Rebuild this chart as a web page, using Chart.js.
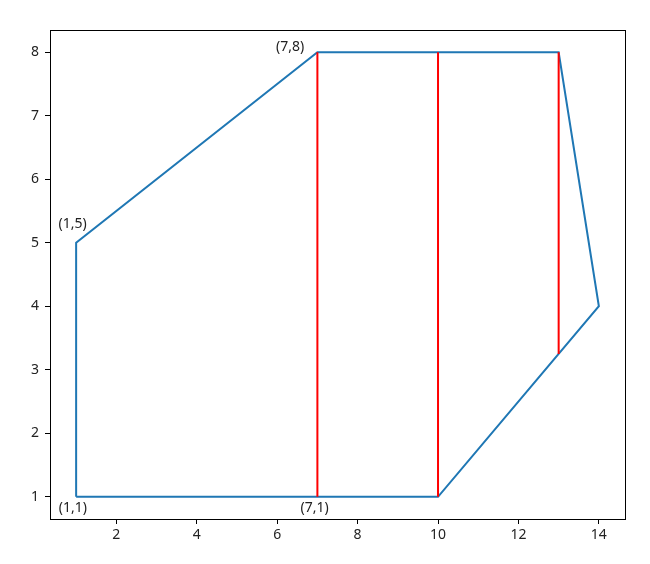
<!DOCTYPE html>
<html>
<head>
<meta charset="utf-8">
<script src="https://cdn.jsdelivr.net/npm/chart.js@4"></script>
<style>
  body { margin: 0; background: #fff; }
</style>
</head>
<body>
<canvas id="myChart" width="650" height="564"></canvas>
<script>
// polygon outline (closed back to the first point)
let polyX = [1, 1, 7, 13, 14, 10, 1];
let polyY = [1, 5, 8, 8, 4, 1, 1];

// red vertical cuts
let cutX = [7, 10, 13];
let cutLow = [1, 1, 3.25];
let cutHigh = [8, 8, 8];

// point labels, placed where they sit in the picture (data units)
let labelText = ['(1,1)', '(1,5)', '(7,8)', '(7,1)'];
let labelX = [0.92, 0.91, 6.32, 6.93];
let labelY = [0.83, 5.30, 8.08, 0.83];

let xTicks = [2, 4, 6, 8, 10, 12, 14];
let yTicks = [1, 2, 3, 4, 5, 6, 7, 8];

const ctx = document.getElementById('myChart');
const FONT = '"Noto Sans", "Open Sans", sans-serif';

let polyPoints = polyX.map((x, i) => ({ x: x, y: polyY[i] }));

let cutPoints = [];
cutX.forEach((x, i) => {
    cutPoints.push({ x: x, y: cutLow[i] });
    cutPoints.push({ x: x, y: cutHigh[i] });
    cutPoints.push({ x: x, y: null });
});

// frame round the plot area plus the text labels
const framePlugin = {
    id: 'frame',
    afterDraw(chart) {
        const c = chart.ctx;
        const a = chart.chartArea;
        c.save();
        c.strokeStyle = '#000';
        c.lineWidth = 1;
        c.strokeRect(Math.round(a.left) + 0.5, Math.round(a.top) + 0.5,
            Math.round(a.right - a.left), Math.round(a.bottom - a.top));
        c.fillStyle = '#222';
        c.font = '14px ' + FONT;
        c.textAlign = 'center';
        c.textBaseline = 'middle';
        labelText.forEach((t, i) => {
            c.fillText(t, chart.scales.x.getPixelForValue(labelX[i]),
                chart.scales.y.getPixelForValue(labelY[i]));
        });
        c.restore();
    }
};

new Chart(ctx, {
    type: 'scatter',
    data: {
        datasets: [{
            data: polyPoints,
            showLine: true,
            borderColor: '#1f77b4',
            borderWidth: 2,
            pointRadius: 0,
            tension: 0,
            order: 2
        }, {
            data: cutPoints,
            showLine: true,
            spanGaps: false,
            borderColor: '#ff0000',
            borderWidth: 2,
            pointRadius: 0,
            order: 1
        }]
    },
    options: {
        responsive: false,
        animation: false,
        devicePixelRatio: 1,
        layout: { padding: { left: 0, top: 30, right: 25, bottom: 0 } },
        plugins: {
            legend: { display: false },
            tooltip: { enabled: false }
        },
        scales: {
            x: {
                type: 'linear',
                min: 0.35,
                max: 14.65,
                afterBuildTicks: (s) => { s.ticks = xTicks.map(v => ({ value: v })); },
                afterFit: (s) => { s.height = 45; },
                grid: { drawOnChartArea: false, drawTicks: true, tickLength: 5, color: '#000' },
                border: { display: true, color: '#000' },
                ticks: { color: '#222', padding: 3, maxRotation: 0, font: { family: FONT, size: 14 } }
            },
            y: {
                type: 'linear',
                min: 0.65,
                max: 8.35,
                afterBuildTicks: (s) => { s.ticks = yTicks.map(v => ({ value: v })); },
                afterFit: (s) => { s.width = 50; },
                grid: { drawOnChartArea: false, drawTicks: true, tickLength: 5, color: '#000' },
                border: { display: true, color: '#000' },
                ticks: { color: '#222', padding: 6, font: { family: FONT, size: 14 } }
            }
        }
    },
    plugins: [framePlugin]
});
</script>
</body>
</html>
